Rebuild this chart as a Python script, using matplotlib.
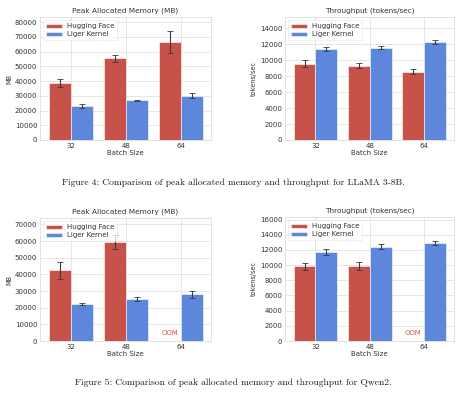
import matplotlib
matplotlib.use("Agg")
import matplotlib.pyplot as plt
import numpy as np

batch_sizes = ["32", "48", "64"]
series = ["Hugging Face", "Liger Kernel"]
colors = ["#c6524a", "#5c87da"]

# LLaMA 3-8B
llama_mem_hf = [38500, 55500, 66700]
llama_mem_hf_err = [2800, 2300, 7600]
llama_mem_lk = [22900, 27100, 30100]
llama_mem_lk_err = [1200, 300, 1700]
llama_tp_hf = [9570, 9320, 8570]
llama_tp_hf_err = [400, 300, 300]
llama_tp_lk = [11370, 11560, 12240]
llama_tp_lk_err = [250, 200, 250]

# Qwen2 (HF at batch 64 is OOM)
qwen_mem_hf = [42400, 59500, np.nan]
qwen_mem_hf_err = [5000, 4000, np.nan]
qwen_mem_lk = [22300, 25300, 28100]
qwen_mem_lk_err = [700, 1200, 2200]
qwen_tp_hf = [9850, 9890, np.nan]
qwen_tp_hf_err = [450, 550, np.nan]
qwen_tp_lk = [11760, 12450, 12920]
qwen_tp_lk_err = [400, 300, 300]

W, H = 474, 399
fig = plt.figure(figsize=(W / 100, H / 100), dpi=100)

FS = 5.0
GRID = "#e2e2e2"
TXT = "#333333"


def axes_px(l, t, r, b):
    return fig.add_axes([l / W, 1 - b / H, (r - l) / W, (b - t) / H])


def bars(ax, hf, hf_err, lk, lk_err, title, ylabel, ymax, yticks, oom_y=None):
    x = np.arange(len(batch_sizes))
    w = 0.4
    ekw = dict(ecolor="#3a3a3a", elinewidth=0.8, capsize=2.0, capthick=0.6)
    ax.bar(x - w / 2, hf, w, yerr=hf_err, color=colors[0], label=series[0],
           edgecolor="white", linewidth=0.4, error_kw=ekw, zorder=2)
    ax.bar(x + w / 2, lk, w, yerr=lk_err, color=colors[1], label=series[1],
           edgecolor="white", linewidth=0.4, error_kw=ekw, zorder=2)
    if oom_y is not None:
        for i, v in enumerate(hf):
            if np.isnan(v):
                ax.text(i - w / 2, oom_y, "OOM", color="#d9534f", ha="center",
                        va="center", fontsize=FS)
    ax.set_xlim(-0.56, 2.55)
    ax.set_ylim(0, ymax)
    ax.set_yticks(yticks)
    ax.set_xticks(x)
    ax.set_xticklabels(batch_sizes)
    ax.set_title(title, fontsize=FS + 0.3, color=TXT, pad=3)
    ax.set_xlabel("Batch Size", fontsize=FS, color=TXT, labelpad=1)
    ax.set_ylabel(ylabel, fontsize=FS - 0.3, color=TXT, labelpad=2)
    ax.tick_params(labelsize=FS, colors=TXT, length=0, pad=2)
    ax.grid(axis="y", color=GRID, linewidth=0.6, zorder=0)
    ax.grid(axis="x", color=GRID, linewidth=0.6, zorder=0)
    ax.set_axisbelow(True)
    for s in ax.spines.values():
        s.set_color("#dddddd")
        s.set_linewidth(0.6)
    leg = ax.legend(loc="upper left", fontsize=FS, frameon=True, fancybox=False,
                    edgecolor="#e5e5e5", handlelength=2.2, handleheight=0.6,
                    borderpad=0.4, labelspacing=0.3, borderaxespad=0.5)
    for t in leg.get_texts():
        t.set_color(TXT)
    leg.get_frame().set_linewidth(0.5)


ax1 = axes_px(40, 17, 211, 140)
bars(ax1, llama_mem_hf, llama_mem_hf_err, llama_mem_lk, llama_mem_lk_err,
     "Peak Allocated Memory (MB)", "MB", 83500, range(0, 80001, 10000))
ax2 = axes_px(285, 17, 454, 140)
bars(ax2, llama_tp_hf, llama_tp_hf_err, llama_tp_lk, llama_tp_lk_err,
     "Throughput (tokens/sec)", "tokens/sec", 15400, range(0, 14001, 2000))
ax3 = axes_px(40, 218, 211, 341)
bars(ax3, qwen_mem_hf, qwen_mem_hf_err, qwen_mem_lk, qwen_mem_lk_err,
     "Peak Allocated Memory (MB)", "MB", 73800, range(0, 70001, 10000),
     oom_y=5000)
ax4 = axes_px(285, 217, 454, 341)
bars(ax4, qwen_tp_hf, qwen_tp_hf_err, qwen_tp_lk, qwen_tp_lk_err,
     "Throughput (tokens/sec)", "tokens/sec", 16350, range(0, 16001, 2000),
     oom_y=1050)

cap_kw = dict(ha="center", va="center", fontsize=6.85, family="cmr10", color="#1a1a1a")
fig.text(233 / W, 1 - 183 / H,
         "Figure 4: Comparison of peak allocated memory and throughput for LLaMA 3-8B.",
         **cap_kw)
fig.text(233 / W, 1 - 383 / H,
         "Figure 5: Comparison of peak allocated memory and throughput for Qwen2.",
         **cap_kw)

fig.savefig("out.png", dpi=100, facecolor="white")
